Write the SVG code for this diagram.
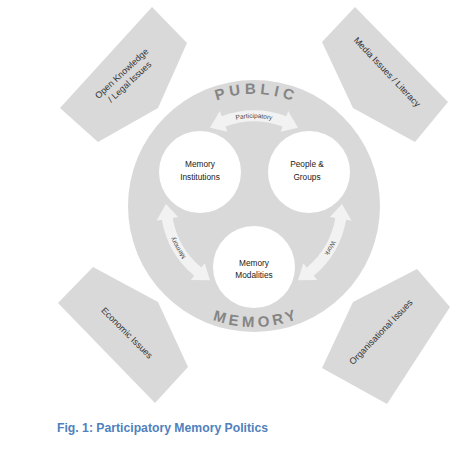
<svg xmlns="http://www.w3.org/2000/svg" xmlns:xlink="http://www.w3.org/1999/xlink" width="461" height="457" viewBox="0 0 461 457">
<defs>
<style>
.pent{fill:#d9d9d9}
.ptxt{font-family:"Liberation Sans",Arial,sans-serif;font-size:9px;fill:#333;text-anchor:middle}
.ring{fill:#d9d9d9}
.big{font-family:"Liberation Sans",Arial,sans-serif;font-size:15px;font-weight:bold;fill:#858585;text-anchor:middle}
.node{fill:#fff}
.ntxt{font-family:"Liberation Sans",Arial,sans-serif;font-size:8.3px;fill:#222;text-anchor:middle}
.arr{fill:#f2f2f2}
.atxt{font-family:"Liberation Sans",Arial,sans-serif;font-size:6.5px;fill:#444;text-anchor:middle}
.cap{font-family:"Liberation Sans",Arial,sans-serif;font-size:13px;font-weight:bold;fill:#4f81bd}
</style>
<path id="arrowShape" d="M210 127.8 L219.77 111.11 L221.67 116.27 A93.5 93.5 0 0 1 286.33 116.27 L288.23 111.11 L298 127.8 L280.63 131.75 L282.53 126.59 A82.5 82.5 0 0 0 225.47 126.59 L227.37 131.75 Z"/>
<path id="txtArc" d="M204.67 133.55 A86 86 0 0 1 303.33 133.55"/>
<path id="pubArc" d="M158.74 149 A110 110 0 0 1 349.26 149"/>
<path id="memArc" d="M147.48 265.5 A123 123 0 0 0 360.52 265.5"/>
</defs>

<g id="open-knowledge">
<polygon class="pent" points="152,7 187,43 158,108 98,142 60,108"/>
<text class="ptxt" transform="translate(125.5,77.5) rotate(-43)"><tspan x="0" y="-2.5">Open Knowledge</tspan><tspan x="0" y="9">/ Legal Issues</tspan></text>
</g>
<g id="media-issues">
<polygon class="pent" points="355,7 322,42 353,108 415,142 448,102"/>
<text class="ptxt" transform="translate(387,72) rotate(46.5)" y="3">Media Issues / Literacy</text>
</g>
<g id="economic-issues">
<polygon class="pent" points="93,267 58,303 155,403 188,367 158,302"/>
<text class="ptxt" transform="translate(127,333) rotate(45)" y="3">Economic Issues</text>
</g>
<g id="organisational-issues">
<polygon class="pent" points="417,269 450,307 387,404 322,368 353,302"/>
<text class="ptxt" transform="translate(381,332) rotate(-46)" y="3">Organisational Issues</text>
</g>

<g id="public-memory">
<circle class="ring" cx="254" cy="206" r="126"/>
<text class="big" letter-spacing="4.2"><textPath href="#pubArc" startOffset="51%">PUBLIC</textPath></text>
<text class="big" letter-spacing="3.8"><textPath href="#memArc" startOffset="51%">MEMORY</textPath></text>
</g>

<g id="connectors">
<g id="participatory">
<use href="#arrowShape" class="arr"/>
<text class="atxt"><textPath href="#txtArc" startOffset="50%">Participatory</textPath></text>
</g>
<g id="work" transform="rotate(120 254 204)">
<use href="#arrowShape" class="arr"/>
<text class="atxt"><textPath href="#txtArc" startOffset="50%">Work</textPath></text>
</g>
<g id="memory" transform="rotate(240 254 204)">
<use href="#arrowShape" class="arr"/>
<text class="atxt"><textPath href="#txtArc" startOffset="50%">Memory</textPath></text>
</g>
</g>

<g id="memory-institutions">
<circle class="node" cx="200" cy="172" r="41"/>
<text class="ntxt" x="200" y="167">Memory</text>
<text class="ntxt" x="200" y="180">Institutions</text>
</g>
<g id="people-groups">
<circle class="node" cx="309" cy="172" r="41"/>
<text class="ntxt" x="307" y="167">People &amp;</text>
<text class="ntxt" x="307" y="180">Groups</text>
</g>
<g id="memory-modalities">
<circle class="node" cx="254" cy="267" r="41"/>
<text class="ntxt" x="254" y="266">Memory</text>
<text class="ntxt" x="254" y="278">Modalities</text>
</g>

<text class="cap" x="57" y="432" textLength="211" lengthAdjust="spacingAndGlyphs">Fig. 1: Participatory Memory Politics</text>
</svg>
